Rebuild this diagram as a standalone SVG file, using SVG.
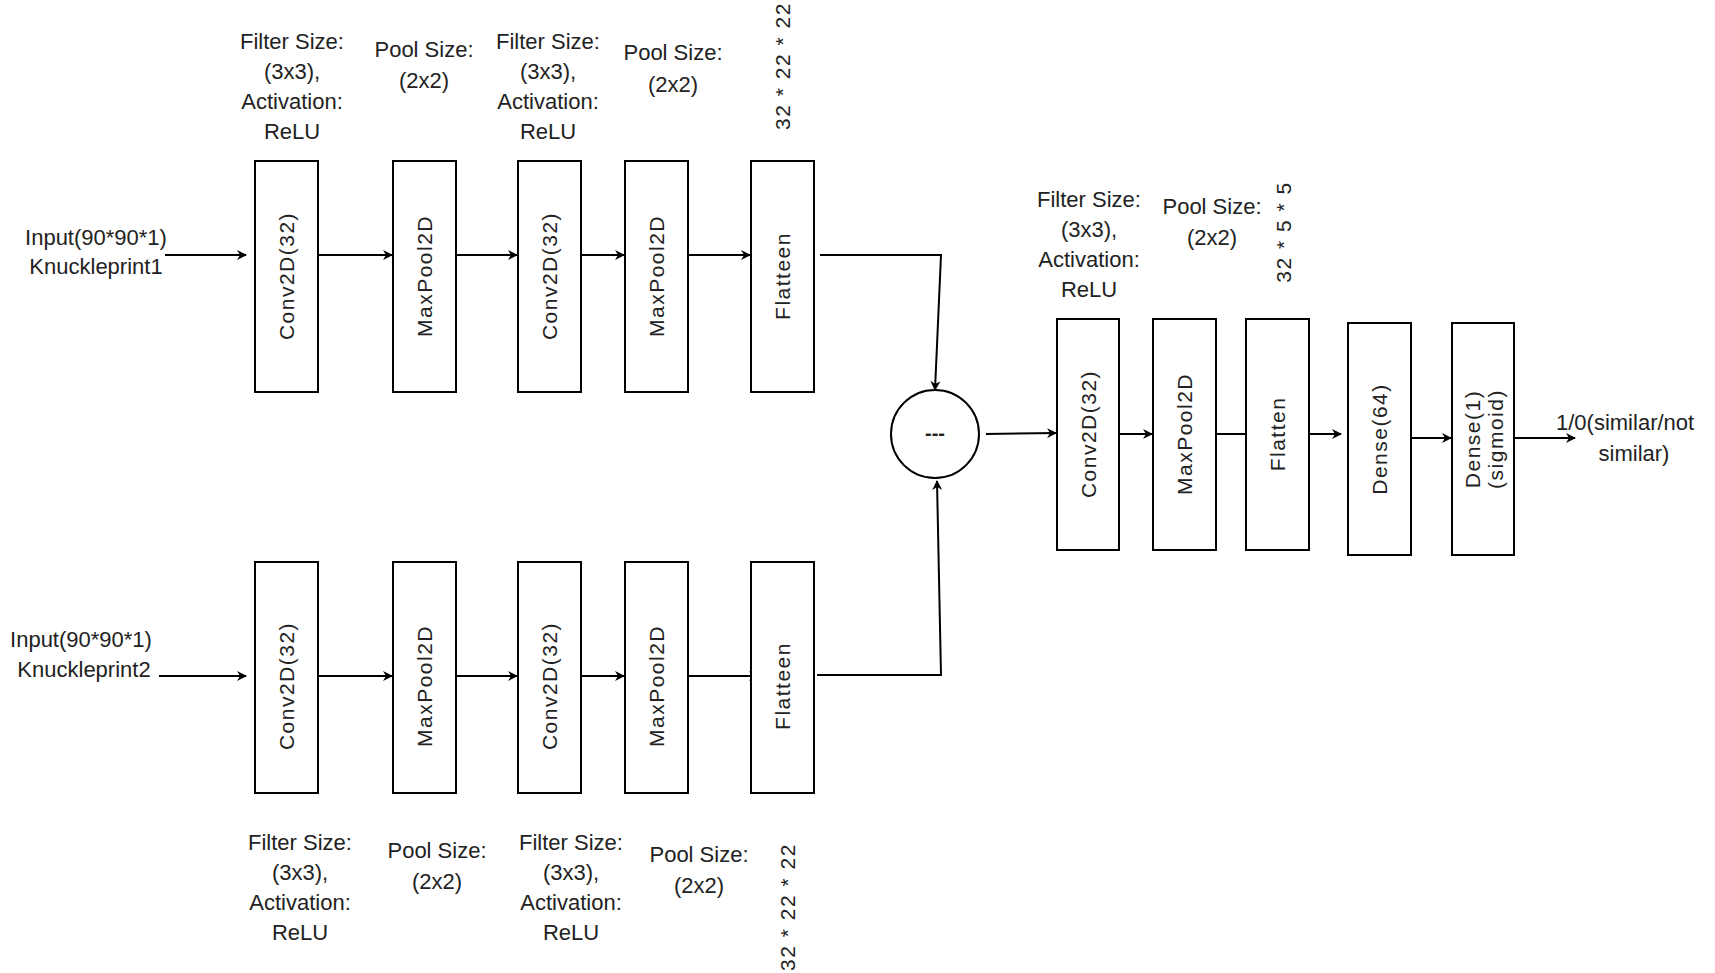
<svg xmlns="http://www.w3.org/2000/svg" width="1715" height="973" viewBox="0 0 1715 973">
<style>
.b{fill:#fff;stroke:#000;stroke-width:2}
.t{font-family:"Liberation Sans",Arial,sans-serif;font-size:22px;fill:#222;text-anchor:middle}
.r{font-family:"Liberation Sans",Arial,sans-serif;font-size:21px;fill:#222;text-anchor:middle;letter-spacing:1.5px}
.c line,.c path{stroke:#000;stroke-width:2;fill:none}
</style>
<defs><marker id="a" markerWidth="10" markerHeight="10" refX="9" refY="5" orient="auto" markerUnits="userSpaceOnUse"><path d="M0,0 L10,5 L0,10 L3,5 Z" fill="#000"/></marker></defs>
<rect width="1715" height="973" fill="#fff"/>
<g class="c">
<line x1="165" y1="255" x2="246" y2="255" marker-end="url(#a)"/>
<line x1="311" y1="255" x2="392" y2="255" marker-end="url(#a)"/>
<line x1="456" y1="255" x2="517" y2="255" marker-end="url(#a)"/>
<line x1="582" y1="255" x2="624" y2="255" marker-end="url(#a)"/>
<line x1="688" y1="255" x2="750" y2="255" marker-end="url(#a)"/>
<path d="M820,255 H941 L935,390" marker-end="url(#a)"/>
<line x1="159" y1="676" x2="246" y2="676" marker-end="url(#a)"/>
<line x1="311" y1="676" x2="392" y2="676" marker-end="url(#a)"/>
<line x1="456" y1="676" x2="517" y2="676" marker-end="url(#a)"/>
<line x1="582" y1="676" x2="624" y2="676" marker-end="url(#a)"/>
<line x1="688" y1="676" x2="758" y2="676" marker-end="url(#a)"/>
<path d="M817,675 H941 L937,481" marker-end="url(#a)"/>
<line x1="986" y1="434" x2="1056" y2="433" marker-end="url(#a)"/>
<line x1="1119" y1="434" x2="1152" y2="434" marker-end="url(#a)"/>
<line x1="1216" y1="434" x2="1258" y2="434" marker-end="url(#a)"/>
<line x1="1309" y1="434" x2="1341" y2="434" marker-end="url(#a)"/>
<line x1="1411" y1="438" x2="1451" y2="438" marker-end="url(#a)"/>
<line x1="1514" y1="438" x2="1575" y2="438" marker-end="url(#a)"/>
</g>
<g id="in1"><text class="t" x="96" y="245">Input(90*90*1)</text><text class="t" x="96" y="274">Knuckleprint1</text></g>
<g id="in2"><text class="t" x="81" y="647">Input(90*90*1)</text><text class="t" x="84" y="677">Knuckleprint2</text></g>
<g id="t1"><rect class="b" x="255" y="161" width="63" height="231"/><text class="r" transform="translate(294,276) rotate(-90)">Conv2D(32)</text></g>
<g id="t2"><rect class="b" x="393" y="161" width="63" height="231"/><text class="r" transform="translate(432,276) rotate(-90)">MaxPool2D</text></g>
<g id="t3"><rect class="b" x="518" y="161" width="63" height="231"/><text class="r" transform="translate(557,276) rotate(-90)">Conv2D(32)</text></g>
<g id="t4"><rect class="b" x="625" y="161" width="63" height="231"/><text class="r" transform="translate(664,276) rotate(-90)">MaxPool2D</text></g>
<g id="t5"><rect class="b" x="751" y="161" width="63" height="231"/><text class="r" transform="translate(790,276) rotate(-90)">Flatteen</text></g>
<g id="b1"><rect class="b" x="255" y="562" width="63" height="231"/><text class="r" transform="translate(294,686) rotate(-90)">Conv2D(32)</text></g>
<g id="b2"><rect class="b" x="393" y="562" width="63" height="231"/><text class="r" transform="translate(432,686) rotate(-90)">MaxPool2D</text></g>
<g id="b3"><rect class="b" x="518" y="562" width="63" height="231"/><text class="r" transform="translate(557,686) rotate(-90)">Conv2D(32)</text></g>
<g id="b4"><rect class="b" x="625" y="562" width="63" height="231"/><text class="r" transform="translate(664,686) rotate(-90)">MaxPool2D</text></g>
<g id="b5"><rect class="b" x="751" y="562" width="63" height="231"/><text class="r" transform="translate(790,686) rotate(-90)">Flatteen</text></g>
<g id="sub"><circle cx="935" cy="434" r="44" fill="#fff" stroke="#000" stroke-width="2"/><text class="t" x="935" y="440" style="font-size:20px;font-weight:bold">---</text></g>
<g id="r1"><rect class="b" x="1057" y="319" width="62" height="231"/><text class="r" transform="translate(1096,434) rotate(-90)">Conv2D(32)</text></g>
<g id="r2"><rect class="b" x="1153" y="319" width="63" height="231"/><text class="r" transform="translate(1192,434) rotate(-90)">MaxPool2D</text></g>
<g id="r3"><rect class="b" x="1246" y="319" width="63" height="231"/><text class="r" transform="translate(1285,434) rotate(-90)">Flatten</text></g>
<g id="r4"><rect class="b" x="1348" y="323" width="63" height="232"/><text class="r" transform="translate(1387,439) rotate(-90)">Dense(64)</text></g>
<g id="r5"><rect class="b" x="1452" y="323" width="62" height="232"/><text class="r" transform="translate(1480,439) rotate(-90)">Dense(1)</text><text class="r" transform="translate(1503,439) rotate(-90)">(sigmoid)</text></g>
<g id="out"><text class="t" x="1556" y="430" style="text-anchor:start">1/0(similar/not</text><text class="t" x="1634" y="461">similar)</text></g>
<g id="labels">
<text class="t" x="292" y="49">Filter Size:</text><text class="t" x="292" y="79">(3x3),</text><text class="t" x="292" y="109">Activation:</text><text class="t" x="292" y="139">ReLU</text>
<text class="t" x="424" y="57">Pool Size:</text><text class="t" x="424" y="88">(2x2)</text>
<text class="t" x="548" y="49">Filter Size:</text><text class="t" x="548" y="79">(3x3),</text><text class="t" x="548" y="109">Activation:</text><text class="t" x="548" y="139">ReLU</text>
<text class="t" x="673" y="60">Pool Size:</text><text class="t" x="673" y="92">(2x2)</text>
<text class="r" transform="translate(790,66) rotate(-90)">32 * 22 * 22</text>
<text class="t" x="1089" y="207">Filter Size:</text><text class="t" x="1089" y="237">(3x3),</text><text class="t" x="1089" y="267">Activation:</text><text class="t" x="1089" y="297">ReLU</text>
<text class="t" x="1212" y="214">Pool Size:</text><text class="t" x="1212" y="245">(2x2)</text>
<text class="r" transform="translate(1291,232) rotate(-90)">32 * 5 * 5</text>
<text class="t" x="300" y="850">Filter Size:</text><text class="t" x="300" y="880">(3x3),</text><text class="t" x="300" y="910">Activation:</text><text class="t" x="300" y="940">ReLU</text>
<text class="t" x="437" y="858">Pool Size:</text><text class="t" x="437" y="889">(2x2)</text>
<text class="t" x="571" y="850">Filter Size:</text><text class="t" x="571" y="880">(3x3),</text><text class="t" x="571" y="910">Activation:</text><text class="t" x="571" y="940">ReLU</text>
<text class="t" x="699" y="862">Pool Size:</text><text class="t" x="699" y="893">(2x2)</text>
<text class="r" transform="translate(795,907) rotate(-90)">32 * 22 * 22</text>
</g>
</svg>
